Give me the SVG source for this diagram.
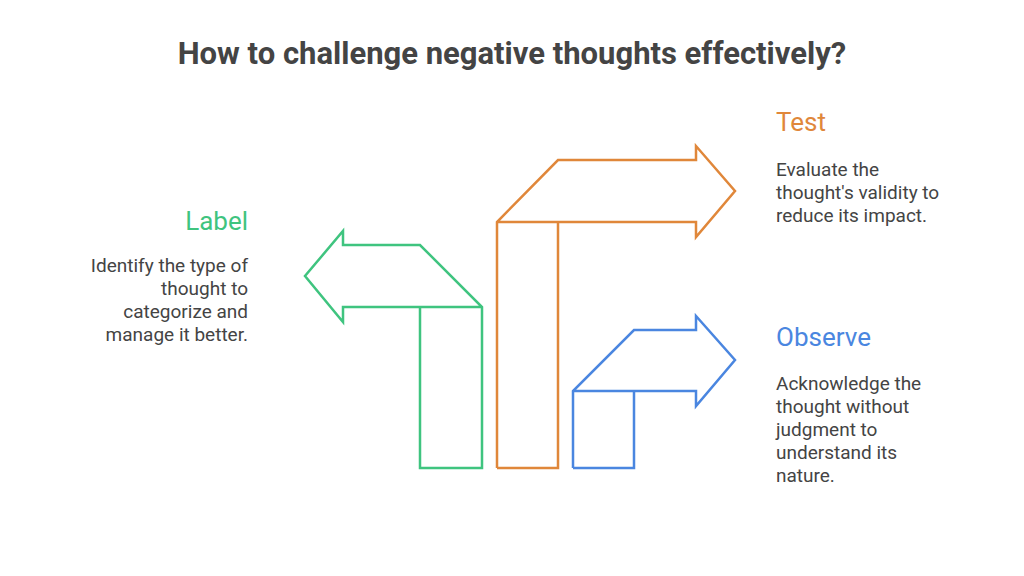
<svg xmlns="http://www.w3.org/2000/svg" width="1024" height="576" viewBox="0 0 1024 576">
<style>
.t{font-family:Roboto,"Liberation Sans",sans-serif;}
.title{font-size:31px;font-weight:bold;fill:#444;}
.h{font-size:26px;}
.b{font-size:19px;fill:#444;}
.a{fill:none;stroke-width:2.5;stroke-linejoin:miter;}
</style>
<rect width="1024" height="576" fill="#fff"/>
<text class="t title" x="512" y="64" text-anchor="middle">How to challenge negative thoughts effectively?</text>
<g id="connectors"/>
<g id="label">
<path class="a" stroke="#3fc47f" d="M420,468 L420,307 L343,307 L343,322 L305,276 L343,231 L343,245 L420,245 L482,307 L482,468 Z M420,307 L482,307"/>
<text class="t h" x="248" y="230" text-anchor="end" fill="#3fc47f">Label</text>
<text class="t b" text-anchor="end"><tspan x="248" y="272">Identify the type of</tspan><tspan x="248" y="295">thought to</tspan><tspan x="248" y="318">categorize and</tspan><tspan x="248" y="341">manage it better.</tspan></text>
</g>
<g id="test">
<path class="a" stroke="#e0873a" d="M497,468 L497,222 L558,160 L696,160 L696,146 L735,191 L696,237 L696,222 L497,222 M558,222 L558,468 L497,468"/>
<text class="t h" x="776" y="131" fill="#e0873a">Test</text>
<text class="t b"><tspan x="776" y="176">Evaluate the</tspan><tspan x="776" y="199">thought's validity to</tspan><tspan x="776" y="222">reduce its impact.</tspan></text>
</g>
<g id="observe">
<path class="a" stroke="#4a86e0" d="M573,468 L573,391 L634,330 L696,330 L696,316 L735,360 L696,406 L696,391 L573,391 M634,391 L634,468 L573,468"/>
<text class="t h" x="776" y="346" fill="#4a86e0">Observe</text>
<text class="t b"><tspan x="776" y="390">Acknowledge the</tspan><tspan x="776" y="413">thought without</tspan><tspan x="776" y="436">judgment to</tspan><tspan x="776" y="459">understand its</tspan><tspan x="776" y="482">nature.</tspan></text>
</g>
</svg>
